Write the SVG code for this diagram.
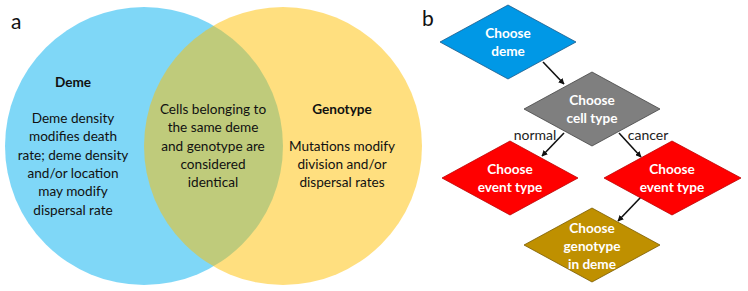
<svg xmlns="http://www.w3.org/2000/svg" width="748" height="291" viewBox="0 0 748 291">
<style>
text{font-family:Lato,"Open Sans","Liberation Sans",sans-serif;font-size:13.6px;text-anchor:middle;fill:#111}
.b{font-weight:bold}
.w{fill:#fff;font-weight:bold}
.lbl{font-size:21px;text-anchor:start}
.tag{text-anchor:middle;fill:#222;font-size:14px}
.arrow{stroke:#111;stroke-width:1.6;fill:none;marker-end:url(#ah)}
</style>
<defs>
<marker id="ah" viewBox="0 0 10 10" refX="9" refY="5" markerWidth="6" markerHeight="6" orient="auto" markerUnits="userSpaceOnUse">
<path d="M0,0 L10,5 L0,10 z" fill="#111"/>
</marker>
</defs>
<rect width="748" height="291" fill="#fff"/>
<text class="lbl" x="11" y="29">a</text>
<text class="lbl" x="422" y="26">b</text>
<g id="venn">
<g id="deme-circle">
<circle cx="144" cy="146" r="139" fill="#00b0f0" fill-opacity="0.5"/>
</g>
<g id="genotype-circle">
<circle cx="283" cy="146" r="139" fill="#ffc000" fill-opacity="0.5"/>
</g>
<g id="deme-text">
<text class="b" x="73" y="87">Deme</text>
<text x="73" y="123">Deme density</text>
<text x="73" y="141.3">modifies death</text>
<text x="73" y="159.6">rate; deme density</text>
<text x="73" y="178">and/or location</text>
<text x="73" y="196.3">may modify</text>
<text x="73" y="214.6">dispersal rate</text>
</g>
<g id="overlap-text">
<text x="213" y="114">Cells belonging to</text>
<text x="213" y="132.3">the same deme</text>
<text x="213" y="150.6">and genotype are</text>
<text x="213" y="169">considered</text>
<text x="213" y="187.3">identical</text>
</g>
<g id="genotype-text">
<text class="b" x="342" y="114">Genotype</text>
<text x="342" y="150.6">Mutations modify</text>
<text x="342" y="169">division and/or</text>
<text x="342" y="187.3">dispersal rates</text>
</g>
</g>
<g id="connectors">
<line class="arrow" x1="543" y1="62" x2="564" y2="84"/>
<line class="arrow" x1="564" y1="133" x2="542" y2="156"/>
<line class="arrow" x1="619" y1="133" x2="641" y2="157"/>
<line class="arrow" x1="641" y1="197" x2="618" y2="221"/>
<text class="tag" x="535" y="140">normal</text>
<text class="tag" x="648" y="140">cancer</text>
</g>
<g id="choose-deme">
<polygon points="440,42 508,5 576,42 508,79" fill="#0098e6" stroke="#1a5a8a" stroke-width="0.8"/>
<text class="w" x="508" y="38">Choose</text>
<text class="w" x="508" y="56">deme</text>
</g>
<g id="choose-cell-type">
<polygon points="524,109 592,72 660,109 592,146" fill="#7f7f7f" stroke="#444" stroke-width="0.8"/>
<text class="w" x="592" y="105">Choose</text>
<text class="w" x="592" y="123">cell type</text>
</g>
<g id="event-normal">
<polygon points="442,178 510,141 578,178 510,215" fill="#ff0000" stroke="#b00" stroke-width="0.8"/>
<text class="w" x="510" y="174">Choose</text>
<text class="w" x="510" y="192">event type</text>
</g>
<g id="event-cancer">
<polygon points="604,178 672,141 741,178 672,215" fill="#ff0000" stroke="#b00" stroke-width="0.8"/>
<text class="w" x="672" y="174">Choose</text>
<text class="w" x="672" y="192">event type</text>
</g>
<g id="choose-genotype">
<polygon points="524,245 592,208 660,245 592,282" fill="#bf9000" stroke="#7a5c00" stroke-width="0.8"/>
<text class="w" x="592" y="233">Choose</text>
<text class="w" x="592" y="251">genotype</text>
<text class="w" x="592" y="269">in deme</text>
</g>
</svg>
